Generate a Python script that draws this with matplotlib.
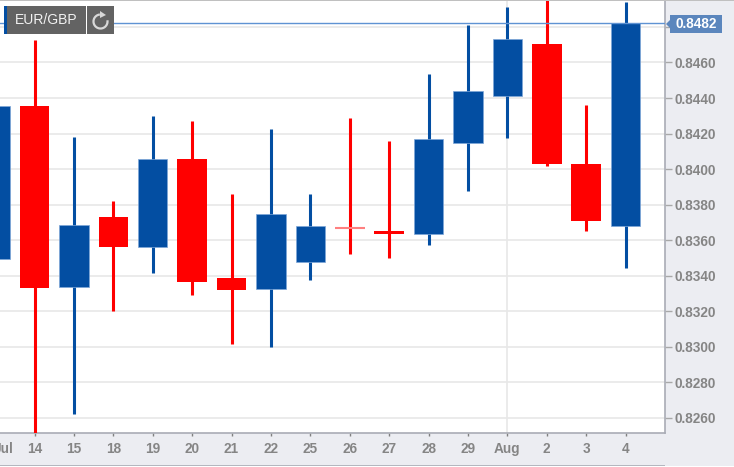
import numpy as np
import matplotlib
matplotlib.use("Agg")
import matplotlib.pyplot as plt
from matplotlib.patches import Rectangle, Polygon, Arc

plt.rcParams['font.family'] = ['Liberation Sans', 'DejaVu Sans']

# daily candles, first one is mostly off the left edge
labels = ["Jul", "14", "15", "18", "19", "20", "21", "22", "25", "26", "27", "28", "29", "Aug", "2", "3", "4"]
opens = [0.83495, 0.84355, 0.83337, 0.83731, 0.83562, 0.84057, 0.83388, 0.83326, 0.83478, 0.8367, 0.83652,
         0.83635, 0.84147, 0.84412, 0.84704, 0.84029, 0.8368]
closes = [0.84355, 0.83331, 0.83686, 0.83562, 0.84057, 0.83365, 0.8332, 0.83748, 0.8368, 0.8367, 0.83635,
          0.8417, 0.8444, 0.84732, 0.84029, 0.83708, 0.8482]
highs = [0.84355, 0.84727, 0.84181, 0.83821, 0.84299, 0.84271, 0.8386, 0.84226, 0.8386, 0.84288, 0.84158,
         0.84535, 0.84811, 0.84912, 0.8495, 0.84361, 0.8494]
lows = [0.83495, 0.825, 0.82622, 0.83202, 0.83416, 0.83292, 0.83016, 0.82999, 0.83376, 0.83523, 0.835,
        0.83573, 0.83877, 0.84175, 0.84018, 0.83652, 0.83444]
y_ticks = [0.826, 0.828, 0.830, 0.832, 0.834, 0.836, 0.838, 0.840, 0.842, 0.844, 0.846, 0.848]
last_price = 0.8482

W, H = 734, 467
BG = "#ecedf2"
RED = "#ff0000"
BLUE = "#034ea2"
GRID = "#e8e8e8"
TXT = "#858585"

fig = plt.figure(figsize=(W / 100, H / 100), dpi=100, facecolor=BG)

# plot area in pixels: x 0-664.5, y 1-432.5
ax = fig.add_axes([0, (H - 432.5) / H, 664.5 / W, 431.5 / H], facecolor="white")
x = np.arange(len(labels)) - 1

for i in range(len(labels)):
    up = closes[i] >= opens[i]
    col = BLUE if up else RED
    if labels[i] == "26":
        col = RED
    ax.vlines(x[i], lows[i], highs[i], color=col, lw=2.2, zorder=3)
    lo = min(opens[i], closes[i])
    hi = max(opens[i], closes[i])
    if hi - lo < 0.00002:
        # doji, just a thin pale dash
        ax.hlines(lo, x[i] - 0.38, x[i] + 0.38, color="#ff8080", lw=1.5, zorder=3)
    else:
        edge = "#7ea6d8" if up else "none"
        ax.bar(x[i], hi - lo, bottom=lo, width=0.75, color=col, edgecolor=edge, lw=0.5, zorder=3)

ax.set_xlim(-0.876, 15.989)
ax.set_ylim(0.82518, 0.84946)
ax.set_yticks(y_ticks)
# the 0.8480 label sits under the price tag, so it stays blank
ax.set_yticklabels([f"{v:.4f}" if v < 0.848 else "" for v in y_ticks], fontsize=9.8, fontweight="bold", color=TXT)
ax.yaxis.tick_right()
ax.tick_params(axis="y", length=5, width=1, color="#a8a8a8", pad=2)
ax.set_xticks(x[1:])
ax.set_xticklabels(labels[1:], fontsize=9.8, fontweight="bold", color=TXT)
ax.tick_params(axis="x", length=2, width=1, color="#808080", pad=5)
ax.grid(axis="y", color=GRID, lw=1.2, zorder=0)
ax.axvline(x[labels.index("Aug")], color=GRID, lw=1.2, zorder=0)
ax.axhline(last_price, color="#5f93d3", lw=1, zorder=4)
for s in ["top", "left"]:
    ax.spines[s].set_visible(False)
for s in ["bottom", "right"]:
    ax.spines[s].set_color("#a9acb5")
    ax.spines[s].set_linewidth(1.2)

# overlay in pixel coords for the pair button, price tag and strips
ov = fig.add_axes([0, 0, 1, 1], facecolor="none")
ov.set_xlim(0, W)
ov.set_ylim(H, 0)
ov.axis("off")
ov.add_patch(Rectangle((0, 0), W, 1, color="#c0c0c0", lw=0))
ov.add_patch(Rectangle((0, 465), 665, 1.2, color="#b4b7bf", lw=0))
ov.add_patch(Rectangle((0, 466.2), W, 1, color="white", lw=0))
ov.text(14, 449, labels[0], ha="right", va="center", fontsize=9.8, fontweight="bold", color=TXT)

ov.add_patch(Rectangle((4, 6), 3, 28, color=BLUE, lw=0))
ov.add_patch(Rectangle((7, 6), 79, 28, color="#636363", lw=0))
ov.add_patch(Rectangle((86, 6), 1, 28, color="white", lw=0))
ov.add_patch(Rectangle((87, 6), 27, 28, color="#636363", lw=0))
ov.text(46, 20.5, "EUR/GBP", ha="center", va="center", fontsize=10, color="#f2f2f2")
ov.add_patch(Arc((100.5, 21.5), 14, 14, theta1=-10, theta2=265, color="#d8d8d8", lw=1.6))
ov.add_patch(Polygon([[100, 11], [106, 15], [100, 18]], color="#d8d8d8", lw=0))

ov.add_patch(Polygon([[666, 24], [670, 20], [670, 28]], color="#5b86bd", lw=0))
ov.add_patch(Rectangle((670, 15), 52, 18, color="#5b86bd", lw=0))
ov.text(696, 24.5, f"{last_price:.4f}", ha="center", va="center", fontsize=9.8, fontweight="bold", color="white")

fig.savefig("out.png", dpi=100, facecolor=BG)
